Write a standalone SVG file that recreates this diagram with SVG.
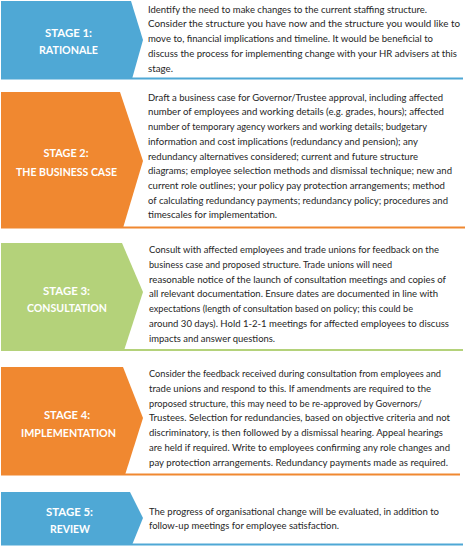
<svg xmlns="http://www.w3.org/2000/svg" width="467" height="548" viewBox="0 0 467 548">
<style>
.lbl{font-family:Lato,"Liberation Sans",sans-serif;font-weight:bold;font-size:11.5px;fill:#ffffff;text-anchor:middle}
.txt{font-family:Lato,"Liberation Sans",sans-serif;font-size:9.3px;fill:#262626}
.blue{fill:#4FA8D5}
.orange{fill:#F08830}
.green{fill:#B4D27A}
.lb{stroke:#4FA8D5;stroke-width:2}
.lo{stroke:#F08830;stroke-width:2}
.lg{stroke:#B4D27A;stroke-width:2}
</style>
<rect width="467" height="548" fill="#ffffff"/>

<g id="stage1">
<line class="lb" x1="1" y1="78.5" x2="463" y2="78.5"/>
<path class="blue" d="M1,1 H131 L143,40 L132,79 H1 Z"/>
<text class="lbl" x="68.5" y="37" textLength="47" lengthAdjust="spacingAndGlyphs">STAGE 1:</text>
<text class="lbl" x="68.5" y="54" textLength="59" lengthAdjust="spacingAndGlyphs">RATIONALE</text>
<text class="txt" x="148" y="12.5" textLength="279" lengthAdjust="spacingAndGlyphs">Identify the need to make changes to the current staffing structure.</text>
<text class="txt" x="148" y="27.3" textLength="312" lengthAdjust="spacingAndGlyphs">Consider the structure you have now and the structure you would like to</text>
<text class="txt" x="148" y="42.1" textLength="285" lengthAdjust="spacingAndGlyphs">move to, financial implications and timeline. It would be beneficial to</text>
<text class="txt" x="148" y="56.9" textLength="309" lengthAdjust="spacingAndGlyphs">discuss the process for implementing change with your HR advisers at this</text>
<text class="txt" x="148" y="71.7" textLength="25" lengthAdjust="spacingAndGlyphs">stage.</text>
</g>

<g id="stage2">
<line class="lo" x1="1" y1="227.5" x2="465" y2="227.5"/>
<path class="orange" d="M1,92 H120 L143,161 L123,228 H1 Z"/>
<text class="lbl" x="66" y="157" textLength="45" lengthAdjust="spacingAndGlyphs">STAGE 2:</text>
<text class="lbl" x="66.5" y="175.5" textLength="101" lengthAdjust="spacingAndGlyphs">THE BUSINESS CASE</text>
<text class="txt" x="148" y="100.7" textLength="295" lengthAdjust="spacingAndGlyphs">Draft a business case for Governor/Trustee approval, including affected</text>
<text class="txt" x="148" y="115.4" textLength="296" lengthAdjust="spacingAndGlyphs">number of employees and working details (e.g. grades, hours); affected</text>
<text class="txt" x="148" y="130.1" textLength="279" lengthAdjust="spacingAndGlyphs">number of temporary agency workers and working details; budgetary</text>
<text class="txt" x="148" y="144.8" textLength="270" lengthAdjust="spacingAndGlyphs">information and cost implications (redundancy and pension); any</text>
<text class="txt" x="148" y="159.5" textLength="270" lengthAdjust="spacingAndGlyphs">redundancy alternatives considered; current and future structure</text>
<text class="txt" x="148" y="174.2" textLength="304" lengthAdjust="spacingAndGlyphs">diagrams; employee selection methods and dismissal technique; new and</text>
<text class="txt" x="148" y="188.9" textLength="297" lengthAdjust="spacingAndGlyphs">current role outlines; your policy pay protection arrangements; method</text>
<text class="txt" x="148" y="203.6" textLength="300" lengthAdjust="spacingAndGlyphs">of calculating redundancy payments; redundancy policy; procedures and</text>
<text class="txt" x="148" y="218.3" textLength="129" lengthAdjust="spacingAndGlyphs">timescales for implementation.</text>
</g>

<g id="stage3">
<line class="lg" x1="1" y1="350" x2="463" y2="350"/>
<path class="green" d="M1,243 H122 L143,292 L124,350.5 H1 Z"/>
<text class="lbl" x="66.5" y="295" textLength="47" lengthAdjust="spacingAndGlyphs">STAGE 3:</text>
<text class="lbl" x="67" y="312" textLength="80" lengthAdjust="spacingAndGlyphs">CONSULTATION</text>
<text class="txt" x="149" y="253.3" textLength="290" lengthAdjust="spacingAndGlyphs">Consult with affected employees and trade unions for feedback on the</text>
<text class="txt" x="149" y="268" textLength="243" lengthAdjust="spacingAndGlyphs">business case and proposed structure. Trade unions will need</text>
<text class="txt" x="149" y="282.7" textLength="297" lengthAdjust="spacingAndGlyphs">reasonable notice of the launch of consultation meetings and copies of</text>
<text class="txt" x="149" y="297.4" textLength="289" lengthAdjust="spacingAndGlyphs">all relevant documentation. Ensure dates are documented in line with</text>
<text class="txt" x="149" y="312.1" textLength="264" lengthAdjust="spacingAndGlyphs">expectations (length of consultation based on policy; this could be</text>
<text class="txt" x="149" y="326.8" textLength="300" lengthAdjust="spacingAndGlyphs">around 30 days). Hold 1-2-1 meetings for affected employees to discuss</text>
<text class="txt" x="149" y="341.5" textLength="126" lengthAdjust="spacingAndGlyphs">impacts and answer questions.</text>
</g>

<g id="stage4">
<line class="lo" x1="1" y1="474.5" x2="460" y2="474.5"/>
<path class="orange" d="M1,367 H123 L143,418 L125,475 H1 Z"/>
<text class="lbl" x="67" y="419" textLength="46" lengthAdjust="spacingAndGlyphs">STAGE 4:</text>
<text class="lbl" x="68.5" y="436.5" textLength="95" lengthAdjust="spacingAndGlyphs">IMPLEMENTATION</text>
<text class="txt" x="149" y="377.3" textLength="292" lengthAdjust="spacingAndGlyphs">Consider the feedback received during consultation from employees and</text>
<text class="txt" x="149" y="392" textLength="282" lengthAdjust="spacingAndGlyphs">trade unions and respond to this. If amendments are required to the</text>
<text class="txt" x="149" y="406.7" textLength="273" lengthAdjust="spacingAndGlyphs">proposed structure, this may need to be re-approved by Governors/</text>
<text class="txt" x="149" y="421.4" textLength="301" lengthAdjust="spacingAndGlyphs">Trustees. Selection for redundancies, based on objective criteria and not</text>
<text class="txt" x="149" y="436.1" textLength="294" lengthAdjust="spacingAndGlyphs">discriminatory, is then followed by a dismissal hearing. Appeal hearings</text>
<text class="txt" x="149" y="450.8" textLength="301" lengthAdjust="spacingAndGlyphs">are held if required. Write to employees confirming any role changes and</text>
<text class="txt" x="149" y="465.5" textLength="299" lengthAdjust="spacingAndGlyphs">pay protection arrangements. Redundancy payments made as required.</text>
</g>

<g id="stage5">
<line class="lb" x1="1" y1="544.5" x2="463" y2="544.5"/>
<path class="blue" d="M1,492 H130 L143,518 L132,545 H1 Z"/>
<text class="lbl" x="69.5" y="516" textLength="47" lengthAdjust="spacingAndGlyphs">STAGE 5:</text>
<text class="lbl" x="70" y="533" textLength="40" lengthAdjust="spacingAndGlyphs">REVIEW</text>
<text class="txt" x="149" y="515" textLength="290" lengthAdjust="spacingAndGlyphs">The progress of organisational change will be evaluated, in addition to</text>
<text class="txt" x="149" y="529" textLength="190" lengthAdjust="spacingAndGlyphs">follow-up meetings for employee satisfaction.</text>
</g>
</svg>
